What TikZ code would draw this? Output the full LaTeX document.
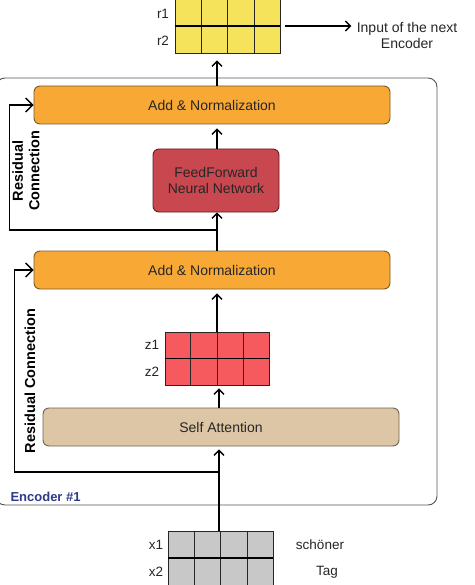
\documentclass[tikz,border=0pt]{standalone}
\usepackage{fontspec}
\setmainfont{Liberation Sans}
\usetikzlibrary{arrows.meta,calc}
\definecolor{orangeF}{HTML}{F8A935}
\definecolor{orangeD}{HTML}{7A5A25}
\definecolor{ffF}{HTML}{C9474F}
\definecolor{ffD}{HTML}{5E2226}
\definecolor{saF}{HTML}{DDC6A5}
\definecolor{saD}{HTML}{6E6252}
\definecolor{zF}{HTML}{F75A5E}
\definecolor{yF}{HTML}{F6E35C}
\definecolor{xF}{HTML}{C8C8C8}
\definecolor{encB}{HTML}{555555}
\definecolor{encT}{HTML}{2E3A8A}
\tikzset{
  lbl/.style={font=\fontsize{14}{16}\selectfont, text=black!85},
  small/.style={font=\fontsize{13.5}{15}\selectfont, text=black!85},
  block/.style={rectangle, rounded corners=6pt, draw, line width=0.9pt, lbl, align=center, inner sep=0pt},
  gridbox/.style={rectangle, draw=black!85, line width=0.9pt, inner sep=0pt},
  conn/.style={line width=1.3pt, draw=black},
  arr/.style={conn, -{Straight Barb[length=5pt,width=10pt,line width=1.3pt]}},
  resarr/.style={conn, -{Straight Barb[length=7pt,width=14pt,line width=1.3pt]}},
  reslbl/.style={font=\bfseries\fontsize{14.5}{16.5}\selectfont, rotate=90, align=center}
}
\newcommand{\gridlines}[1]{%
  \draw[black!85, line width=0.9pt]
    ($(#1.north west)!0.25!(#1.north east)$) -- ($(#1.south west)!0.25!(#1.south east)$)
    ($(#1.north west)!0.5!(#1.north east)$) -- ($(#1.south west)!0.5!(#1.south east)$)
    ($(#1.north west)!0.75!(#1.north east)$) -- ($(#1.south west)!0.75!(#1.south east)$);
  \draw[black, line width=1.4pt] (#1.west) -- (#1.east);
}
\begin{document}
\begin{tikzpicture}[x=1pt,y=-1pt]
\useasboundingbox[fill=white] (0,0) rectangle (474,585);

% encoder container
\node[rectangle, rounded corners=9pt, draw=encB, line width=0.9pt, minimum width=441pt, minimum height=427pt, inner sep=0pt] (enc) at (216.5,291.5) {};
\node[anchor=west, font=\bfseries\fontsize{13}{15}\selectfont, text=encT] (enclbl) at (7,497) {Encoder \#1};

% blocks
\node[block, fill=orangeF, draw=orangeD, minimum width=356pt, minimum height=38pt] (an1) at (212,105) {Add \& Normalization};
\node[block, fill=ffF, draw=ffD, minimum width=126pt, minimum height=63pt] (ff) at (216,180.5) {FeedForward\\Neural Network};
\node[block, fill=orangeF, draw=orangeD, minimum width=356pt, minimum height=38pt] (an2) at (212,270) {Add \& Normalization};
\node[block, fill=saF, draw=saD, minimum width=356pt, minimum height=38pt] (sa) at (221,427) {Self Attention};

% grids
\node[gridbox, fill=yF, minimum width=105pt, minimum height=54pt] (yg) at (227.5,26) {};
\gridlines{yg}
\node[gridbox, fill=zF, minimum width=104pt, minimum height=53pt] (zg) at (217,358.5) {};
\gridlines{zg}
\node[gridbox, fill=xF, minimum width=105pt, minimum height=54pt] (xg) at (220.5,558) {};
\gridlines{xg}

% grid labels
\node[small] (r1) at (163,14) {r1};
\node[small] (r2) at (163,41) {r2};
\node[small] (z1) at (152,345) {z1};
\node[small] (z2) at (152,372) {z2};
\node[small] (x1) at (156,545) {x1};
\node[small] (x2) at (156,572) {x2};
\node[small] (w1) at (320,545) {schöner};
\node[small] (w2) at (327,572) {Tag};
\node[lbl, align=center] (next) at (407,35) {Input of the next\\Encoder};

% coordinates
\coordinate (j1) at (217,230);
\coordinate (j2) at (219,472);

% connectors
\draw[arr, shorten >=7pt] (an1.north -| j1) -- (yg.south -| j1);
\draw[arr, shorten <=5pt, shorten >=2pt] (yg.east) -- (next.west |- yg.east);
\draw[arr, shorten >=4pt] (ff.north -| j1) -- (an1.south -| j1);
\draw[conn] (an2.north -| j1) -- (j1);
\draw[arr] (j1) -- (ff.south -| j1);
\draw[resarr] (j1) -| ([xshift=-24pt]an1.west) -- (an1.west);
\draw[arr, shorten >=4pt] (zg.north -| j1) -- (an2.south -| j1);
\draw[arr, shorten >=3pt] (sa.north -| j2) -- (zg.south -| j2);
\draw[arr, shorten >=3pt] (xg.north -| j2) -- (sa.south -| j2);
\draw[resarr] (j2) -| ([xshift=-19pt]an2.west) -- (an2.west);

% residual labels
\node[reslbl] (res1) at (26,171) {Residual\\Connection};
\node[reslbl] (res2) at (30,381) {Residual Connection};
\end{tikzpicture}
\end{document}
